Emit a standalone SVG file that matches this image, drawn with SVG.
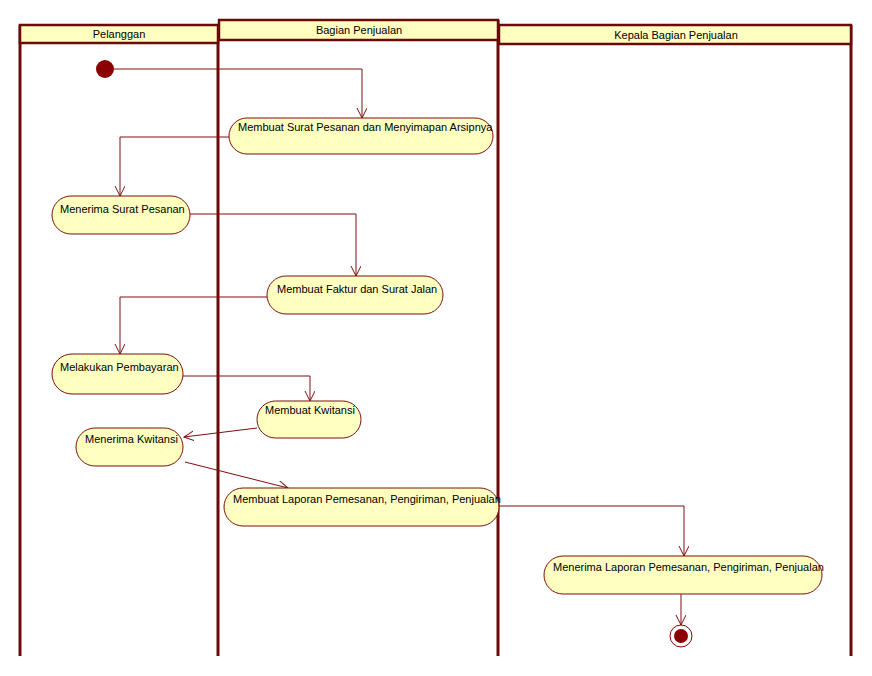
<svg xmlns="http://www.w3.org/2000/svg" width="872" height="676" viewBox="0 0 872 676">
<style>
.lane{fill:none;stroke:#6b0a0a;stroke-width:3}
.hdr{fill:#ffffc0;stroke:#6b0a0a;stroke-width:2.5}
.node{fill:#ffffc0;stroke:#7a1010;stroke-width:1}
text{font-family:"Liberation Sans",Arial,sans-serif;font-size:11px;fill:#000}
.c{fill:none;stroke:#7a1010;stroke-width:1;marker-end:url(#a)}
</style>
<defs><marker id="a" markerWidth="12" markerHeight="12" refX="10" refY="5" orient="auto" markerUnits="userSpaceOnUse"><path d="M0,0 L10,5 L0,10" fill="none" stroke="#7a1010" stroke-width="1"/></marker></defs>
<rect width="872" height="676" fill="#fff"/>
<g id="lanes">
<path class="lane" d="M20,25 V656 M218,25 V656 M498,20 V656 M851,25 V656"/>
<rect class="hdr" x="20" y="25" width="198" height="18"/>
<rect class="hdr" x="219" y="20" width="279" height="20"/>
<rect class="hdr" x="499" y="25" width="352" height="19"/>
<text x="119" y="38" text-anchor="middle">Pelanggan</text>
<text x="359" y="34" text-anchor="middle">Bagian Penjualan</text>
<text x="676" y="39" text-anchor="middle">Kepala Bagian Penjualan</text>
</g>
<g id="connectors">
<path class="c" d="M114,69 H362 V118"/>
<path class="c" d="M229,137 H120 V196"/>
<path class="c" d="M190,214 H356 V276"/>
<path class="c" d="M267,297 H120 V354"/>
<path class="c" d="M183,376 H310 V401"/>
<path class="c" d="M257,428 L184,437"/>
<path class="c" d="M185,462 L288,488"/>
<path class="c" d="M499,506 H684 V556"/>
<path class="c" d="M681,594 V625"/>
</g>
<g id="start"><circle cx="105" cy="69" r="9" fill="#8b0000"/></g>
<g id="n1"><rect class="node" x="229" y="118" width="264" height="36" rx="18"/><text x="238" y="131">Membuat Surat Pesanan dan Menyimapan Arsipnya</text></g>
<g id="n2"><rect class="node" x="52" y="196" width="138" height="38" rx="19"/><text x="60" y="213">Menerima Surat Pesanan</text></g>
<g id="n3"><rect class="node" x="267" y="276" width="176" height="38" rx="19"/><text x="277" y="293">Membuat Faktur dan Surat Jalan</text></g>
<g id="n4"><rect class="node" x="52" y="354" width="131" height="40" rx="20"/><text x="60" y="371">Melakukan Pembayaran</text></g>
<g id="n5"><rect class="node" x="257" y="401" width="104" height="37" rx="18.5"/><text x="265" y="414">Membuat Kwitansi</text></g>
<g id="n6"><rect class="node" x="76" y="428" width="107" height="38" rx="19"/><text x="85" y="443">Menerima Kwitansi</text></g>
<g id="n7"><rect class="node" x="224" y="488" width="275" height="38" rx="19"/><text x="233" y="503">Membuat Laporan Pemesanan, Pengiriman, Penjualan</text></g>
<g id="n8"><rect class="node" x="544" y="556" width="278" height="38" rx="19"/><text x="553" y="571">Menerima Laporan Pemesanan, Pengiriman, Penjualan</text></g>
<g id="end"><circle cx="681" cy="636" r="11" fill="#fff" stroke="#8b0000" stroke-width="1"/><circle cx="681" cy="636" r="7" fill="#8b0000"/></g>
</svg>
